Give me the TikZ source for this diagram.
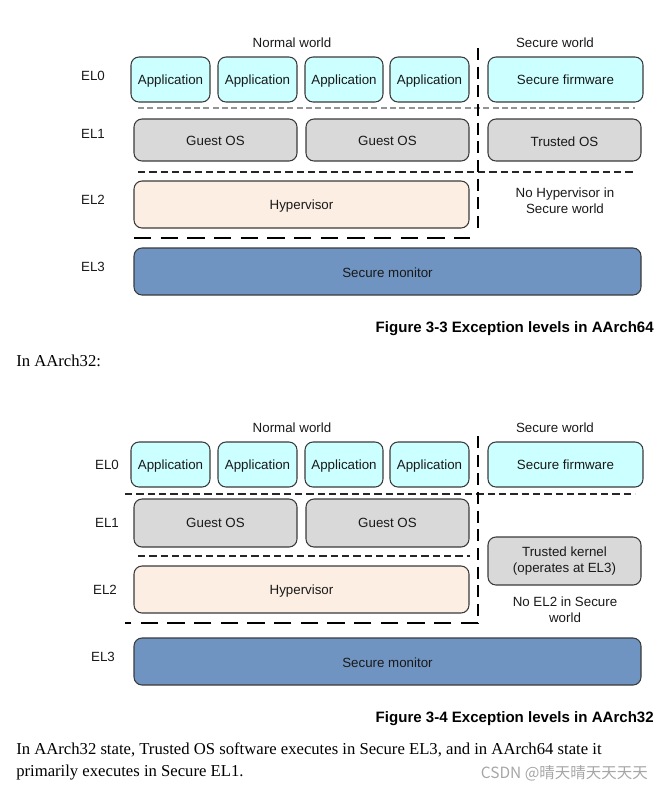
\documentclass[tikz,border=0pt]{standalone}
\usepackage{fontspec}
\setmainfont{Liberation Sans}
\newfontfamily\bodyfont{Liberation Serif}
\newfontfamily\cjk{Noto Sans CJK SC}
\usepackage{xcolor}
\usetikzlibrary{positioning}

\definecolor{appcyan}{HTML}{CCFFFF}
\definecolor{osgray}{HTML}{D9D9D9}
\definecolor{hyppeach}{HTML}{FCEEE3}
\definecolor{monblue}{HTML}{7094C1}
\definecolor{edgegray}{HTML}{3A3A3A}

\tikzset{
    boxbase/.style={draw=edgegray, line width=0.8pt, rounded corners=6pt},
    appbox/.style={boxbase, fill=appcyan},
    osbox/.style={boxbase, fill=osgray},
    hypbox/.style={boxbase, fill=hyppeach},
    monbox/.style={boxbase, fill=monblue},
    lbl/.style={font=\fontsize{10}{12}\selectfont, text=black!90, inner sep=0pt, align=center, yshift=-1pt},
    lvlgray/.style={draw=gray!85, line width=1.1pt, dash pattern=on 4.5pt off 2.5pt},
    lvlline/.style={draw=black!85, line width=1.1pt, dash pattern=on 5.5pt off 3pt},
    worldline/.style={draw=black, line width=1.6pt, dash pattern=on 9pt off 5pt},
    hypline/.style={draw=black, line width=2.2pt, dash pattern=on 13pt off 7pt},
    caption/.style={font=\fontsize{11.3}{13}\selectfont\bfseries, inner sep=0pt, anchor=east},
    bodytext/.style={font=\bodyfont\fontsize{12.5}{15}\selectfont, inner sep=0pt, anchor=west}
}

\begin{document}
\begin{tikzpicture}[x=0.75pt, y=-0.75pt]
    \useasboundingbox (0,0) rectangle (663,790);

    % ---------- Figure 3-3: AArch64 ----------
    \node[lbl] (nw1) at (292,41) {Normal world};
    \node[lbl] (sw1) at (555,41) {Secure world};
    \node[lbl] (el0a) at (93,75) {EL0};
    \node[lbl] (el1a) at (93,133) {EL1};
    \node[lbl] (el2a) at (93,199) {EL2};
    \node[lbl] (el3a) at (93,266) {EL3};

    % EL0
    \draw[appbox] (131,57) rectangle (210,102);
    \draw[appbox] (218,57) rectangle (297,102);
    \draw[appbox] (305,57) rectangle (383,102);
    \draw[appbox] (390,57) rectangle (469,102);
    \draw[appbox] (488,57) rectangle (643,102);
    \node[lbl] (app1a) at (170.5,79.5) {Application};
    \node[lbl] (app2a) at (257.5,79.5) {Application};
    \node[lbl] (app3a) at (344,79.5) {Application};
    \node[lbl] (app4a) at (429.5,79.5) {Application};
    \node[lbl] (fwa) at (565.5,78.5) {Secure firmware};
    \draw[lvlgray] (138,108) -- (635,108);

    % EL1
    \draw[osbox] (134,119) rectangle (297,161);
    \draw[osbox] (306,119) rectangle (469,161);
    \draw[osbox] (488,119) rectangle (641,161);
    \node[lbl] (gos1a) at (215.5,140) {Guest OS};
    \node[lbl] (gos2a) at (387.5,140) {Guest OS};
    \node[lbl] (tos) at (564.5,140) {Trusted OS};
    \draw[lvlline] (138,172) -- (635,172);

    % EL2
    \draw[hypbox] (134,181) rectangle (469,228);
    \node[lbl] (hypa) at (301.5,204.5) {Hypervisor};
    \node[lbl] (nohyp) at (565,199) {No Hypervisor in\\Secure world};
    \draw[hypline] (134,238) -- (470,238);
    \draw[worldline] (478,48) -- (478,233);

    % EL3
    \draw[monbox] (134,248) rectangle (641,295);
    \node[lbl] (mona) at (387.5,271.5) {Secure monitor};

    \node[caption] (cap1) at (654,329) {Figure 3-3 Exception levels in AArch64};
    \node[bodytext] (intro) at (16,361) {In AArch32:};

    % ---------- Figure 3-4: AArch32 ----------
    \node[lbl] (nw2) at (292,426) {Normal world};
    \node[lbl] (sw2) at (555,426) {Secure world};
    \node[lbl] (el0b) at (107,464) {EL0};
    \node[lbl] (el1b) at (107,522) {EL1};
    \node[lbl] (el2b) at (105,589) {EL2};
    \node[lbl] (el3b) at (103,656) {EL3};

    % EL0
    \draw[appbox] (131,442) rectangle (210,487);
    \draw[appbox] (218,442) rectangle (297,487);
    \draw[appbox] (305,442) rectangle (383,487);
    \draw[appbox] (390,442) rectangle (469,487);
    \draw[appbox] (488,442) rectangle (643,487);
    \node[lbl] (app1b) at (170.5,464.5) {Application};
    \node[lbl] (app2b) at (257.5,464.5) {Application};
    \node[lbl] (app3b) at (344,464.5) {Application};
    \node[lbl] (app4b) at (429.5,464.5) {Application};
    \node[lbl] (fwb) at (565.5,463.5) {Secure firmware};
    \draw[lvlline] (125,494) -- (635,494);

    % EL1
    \draw[osbox] (134,499) rectangle (297,547);
    \draw[osbox] (306,499) rectangle (469,547);
    \node[lbl] (gos1b) at (215.5,522) {Guest OS};
    \node[lbl] (gos2b) at (387.5,522) {Guest OS};
    \draw[lvlline] (138,556) -- (470,556);

    % EL2 + trusted kernel
    \draw[hypbox] (134,566) rectangle (469,613);
    \node[lbl] (hypb) at (301.5,589.5) {Hypervisor};
    \draw[osbox] (488,537) rectangle (641,585);
    \node[lbl] (tkern) at (564.5,560) {Trusted kernel\\(operates at EL3)};
    \node[lbl] (noel2) at (565,608) {No EL2 in Secure\\world};
    \draw[worldline] (478,436) -- (478,623);
    \draw[hypline] (478,623) -- (125,623);

    % EL3
    \draw[monbox] (134,638) rectangle (641,685);
    \node[lbl] (monb) at (387.5,661.5) {Secure monitor};

    \node[caption] (cap2) at (654,719) {Figure 3-4 Exception levels in AArch32};
    \node[bodytext] (line1) at (16,750) {In AArch32 state, Trusted OS software executes in Secure EL3, and in AArch64 state it};
    \node[bodytext] (line2) at (16,773) {primarily executes in Secure EL1.};
    \node[font=\cjk\fontsize{11.6}{13}\selectfont, text=gray!70, inner sep=0pt, anchor=east] (mark) at (648,773) {CSDN @晴天晴天天天天};
\end{tikzpicture}
\end{document}
